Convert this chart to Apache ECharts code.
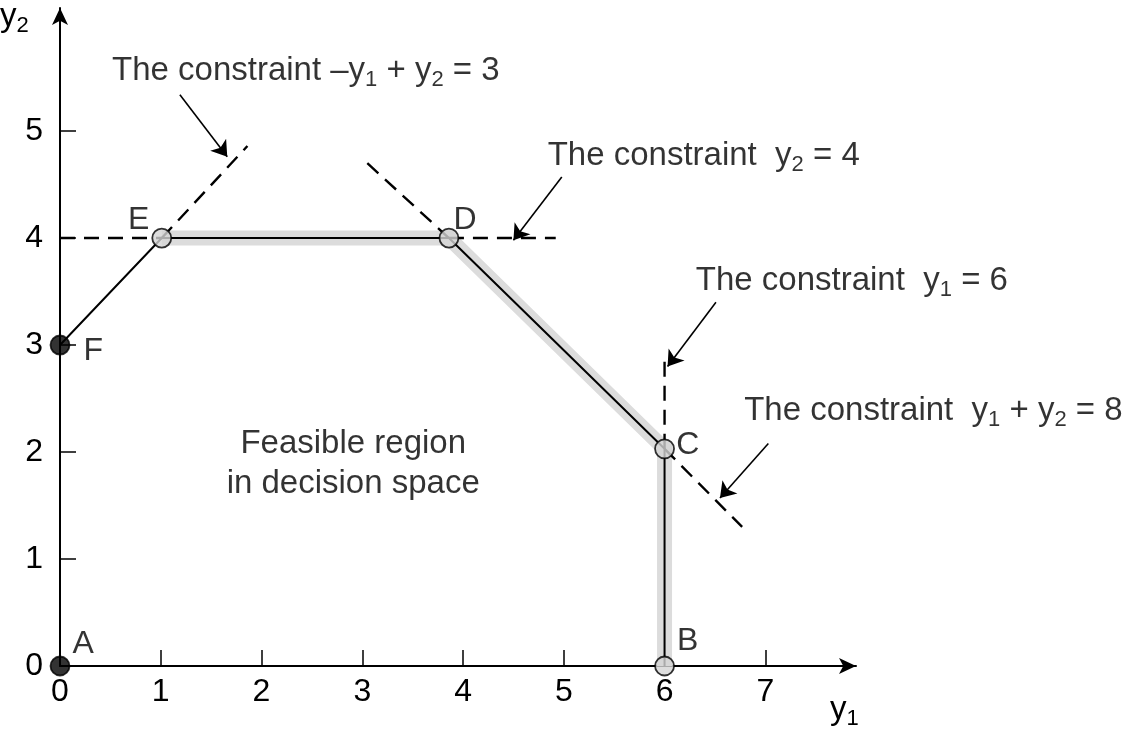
<!DOCTYPE html>
<html>
<head>
<meta charset="utf-8">
<script src="https://cdn.jsdelivr.net/npm/echarts@6/dist/echarts.min.js"></script>
<style>
  html, body { margin: 0; background: #fff; }
  #chart { width: 1124px; height: 736px; }
</style>
</head>
<body>
<div id="chart"></div>
<script>
const FONT = '"Liberation Sans", Arial, Helvetica, sans-serif'

// corner points of the feasible region
const pointNames = ['A', 'B', 'C', 'D', 'E', 'F']
const pointX = [0, 6, 6, 3.86, 1.01, 0]
const pointY = [0, 0, 2.03, 4, 4, 3]
const pointFilled = [true, false, false, false, false, true]
// where each letter is written
const letterX = [0.23, 6.23, 6.23, 4.02, 0.78, 0.33]
const letterY = [0.2, 0.23, 2.06, 4.17, 4.17, 2.94]

// solid boundary F-E-D-C-B, grey frontier band E-D-C-B
const boundaryOrder = ['F', 'E', 'D', 'C', 'B']
const frontierOrder = ['E', 'D', 'C', 'B']

// dashed constraint lines, start / end
const dashStart = [[1.01, 4], [0, 4], [3.86, 4], [3.05, 4.7], [6, 2.03], [6, 2.03]]
const dashEnd = [[1.86, 4.86], [1.01, 4], [4.92, 4], [3.86, 4], [6.77, 1.3], [6, 2.92]]

// annotations and their arrows
const noteText = [
  'The constraint \u2013y_1 + y_2 = 3',
  'The constraint  y_2 = 4',
  'The constraint  y_1 = 6',
  'The constraint  y_1 + y_2 = 8'
]
const noteX = [0.516, 4.84, 6.31, 6.79]
const noteY = [5.56, 4.77, 3.6, 2.38]
const arrowFrom = [[1.19, 5.34], [4.98, 4.57], [6.51, 3.4], [7.03, 2.08]]
const arrowTo = [[1.66, 4.76], [4.5, 3.98], [6.03, 2.8], [6.55, 1.57]]

const regionText = 'Feasible region\nin decision space'
const regionPos = [2.91, 1.89]

const xTicks = [0, 1, 2, 3, 4, 5, 6, 7]
const yTicks = [0, 1, 2, 3, 4, 5]

const pt = name => {
  const i = pointNames.indexOf(name)
  return [pointX[i], pointY[i]]
}

// 'y_1' -> y with subscript 1
function richText (t) {
  return t.split('\n').map(line =>
    line.split(/_(\d)/).map((p, i) => i % 2 ? '{s|' + p + '}' : (p ? '{b|' + p + '}' : '')).join('')
  ).join('\n')
}
const rich = {
  b: { fontFamily: FONT, fontSize: 33, color: '#000', lineHeight: 40, verticalAlign: 'middle' },
  s: { fontFamily: FONT, fontSize: 22, color: '#000', lineHeight: 20, verticalAlign: 'bottom' }
}

const chart = echarts.init(document.getElementById('chart'))

const axisCommon = {
  type: 'value',
  min: 0,
  interval: 1,
  splitLine: { show: false },
  axisLine: {
    show: true,
    symbol: ['none', 'arrow'],
    symbolSize: [12, 17],
    lineStyle: { color: '#000', width: 2 }
  },
  axisTick: { show: true, inside: true, length: 16, lineStyle: { color: '#000', width: 1.5 } },
  axisLabel: { color: '#000', fontSize: 32, fontFamily: FONT }
}

const dashSeries = dashStart.map((s, i) => ({
  type: 'line',
  data: [s, dashEnd[i]],
  symbol: 'none',
  silent: true,
  z: 3,
  lineStyle: { color: '#000', width: 2.4, type: [15, 9] }
}))

chart.setOption({
  animation: false,
  backgroundColor: '#fff',
  grid: { left: 60, right: 268, top: 8, bottom: 70 },
  xAxis: {
    ...axisCommon,
    max: 7.9,
    axisTick: { ...axisCommon.axisTick, customValues: xTicks },
    axisLabel: { ...axisCommon.axisLabel, margin: 10, customValues: xTicks }
  },
  yAxis: {
    ...axisCommon,
    max: 6.15,
    axisTick: { ...axisCommon.axisTick, customValues: yTicks },
    axisLabel: { ...axisCommon.axisLabel, margin: 17, customValues: yTicks }
  },
  graphic: [
    { type: 'text', left: 0, top: 0, style: { text: richText('y_2'), rich } },
    { type: 'text', left: 830, top: 693, style: { text: richText('y_1'), rich } }
  ],
  series: [
    {
      type: 'line',
      data: frontierOrder.map(pt),
      symbol: 'none',
      silent: true,
      z: 1,
      lineStyle: { color: '#dcdcdc', width: 15, cap: 'butt', join: 'miter' }
    },
    ...dashSeries,
    {
      type: 'line',
      data: boundaryOrder.map(pt),
      symbol: 'none',
      silent: true,
      z: 4,
      lineStyle: { color: '#000', width: 2 }
    },
    {
      type: 'lines',
      coordinateSystem: 'cartesian2d',
      symbol: ['none', 'arrow'],
      symbolSize: [10, 15],
      silent: true,
      z: 4,
      lineStyle: { color: '#000', width: 1.6, opacity: 1, curveness: 0 },
      data: arrowFrom.map((p, i) => ({ coords: [p, arrowTo[i]] }))
    },
    {
      type: 'scatter',
      symbol: 'circle',
      symbolSize: 19,
      z: 6,
      data: pointNames.map((n, i) => ({
        value: [pointX[i], pointY[i]],
        itemStyle: { color: pointFilled[i] ? '#000' : '#d4d4d4', borderColor: '#000', borderWidth: 1.8 }
      }))
    },
    {
      type: 'scatter',
      symbolSize: 0,
      z: 7,
      label: { show: true, position: 'inside', color: '#000', fontSize: 32, fontFamily: FONT, formatter: p => p.name },
      data: pointNames.map((n, i) => ({ name: n, value: [letterX[i], letterY[i]] }))
    },
    {
      type: 'scatter',
      symbolSize: 0,
      z: 7,
      label: { show: true, position: 'right', distance: 0, rich, formatter: p => richText(p.name) },
      data: noteText.map((t, i) => ({ name: t, value: [noteX[i], noteY[i]] }))
    },
    {
      type: 'scatter',
      symbolSize: 0,
      z: 7,
      label: { show: true, position: 'inside', align: 'center', rich, formatter: p => richText(p.name) },
      data: [{ name: regionText, value: regionPos }]
    }
  ]
})
</script>
</body>
</html>
